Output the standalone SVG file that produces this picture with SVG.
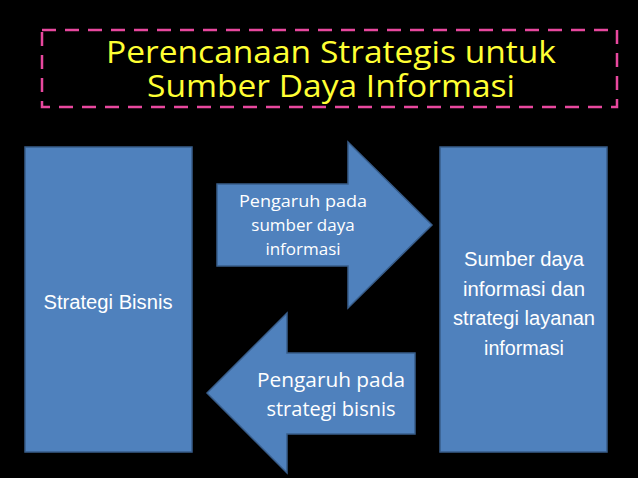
<svg xmlns="http://www.w3.org/2000/svg" width="638" height="478" viewBox="0 0 638 478">
<style>
.shape{fill:#4F81BD;stroke:#385D8A;stroke-width:1.5}
.cal{font-family:"Open Sans","Noto Sans",sans-serif;fill:#ffffff;text-anchor:middle}
.ar{font-family:"Liberation Sans",Arial,sans-serif;fill:#ffffff;text-anchor:middle}
.title{font-family:"Open Sans","Noto Sans",sans-serif;fill:#FFFF33;text-anchor:middle;font-size:31px}
</style>
<rect width="638" height="478" fill="#000000"/>
<g id="title">
<rect x="42" y="30" width="575" height="77" fill="none" stroke="#E8489E" stroke-width="2.5" stroke-dasharray="14,9"/>
<text class="title" x="331" y="63" textLength="450" lengthAdjust="spacingAndGlyphs">Perencanaan Strategis untuk</text>
<text class="title" x="331" y="97" textLength="368" lengthAdjust="spacingAndGlyphs">Sumber Daya Informasi</text>
</g>
<g id="strategi-bisnis">
<rect class="shape" x="25" y="147" width="167" height="305"/>
<text class="ar" x="108" y="309" font-size="20" textLength="129" lengthAdjust="spacingAndGlyphs">Strategi Bisnis</text>
</g>
<g id="sumber-daya">
<rect class="shape" x="440" y="147" width="167" height="305"/>
<text class="ar" x="524" y="266" font-size="20" textLength="120" lengthAdjust="spacingAndGlyphs">Sumber daya</text>
<text class="ar" x="524" y="296" font-size="20" textLength="122" lengthAdjust="spacingAndGlyphs">informasi dan</text>
<text class="ar" x="524" y="325" font-size="20" textLength="142" lengthAdjust="spacingAndGlyphs">strategi layanan</text>
<text class="ar" x="524" y="355" font-size="20" textLength="80" lengthAdjust="spacingAndGlyphs">informasi</text>
</g>
<g id="connectors">
<g id="arrow-right">
<polygon class="shape" points="217,184 348,184 348,142 432,225 348,308 348,266 217,266"/>
<text class="cal" x="303" y="207" font-size="17" textLength="128" lengthAdjust="spacingAndGlyphs">Pengaruh pada</text>
<text class="cal" x="303" y="231" font-size="17">sumber daya</text>
<text class="cal" x="303" y="255" font-size="17">informasi</text>
</g>
<g id="arrow-left">
<polygon class="shape" points="415,353 287,353 287,313 207,393 287,473 287,434 415,434"/>
<text class="cal" x="331" y="387" font-size="20" textLength="148" lengthAdjust="spacingAndGlyphs">Pengaruh pada</text>
<text class="cal" x="331" y="416" font-size="20">strategi bisnis</text>
</g>
</g>
</svg>
